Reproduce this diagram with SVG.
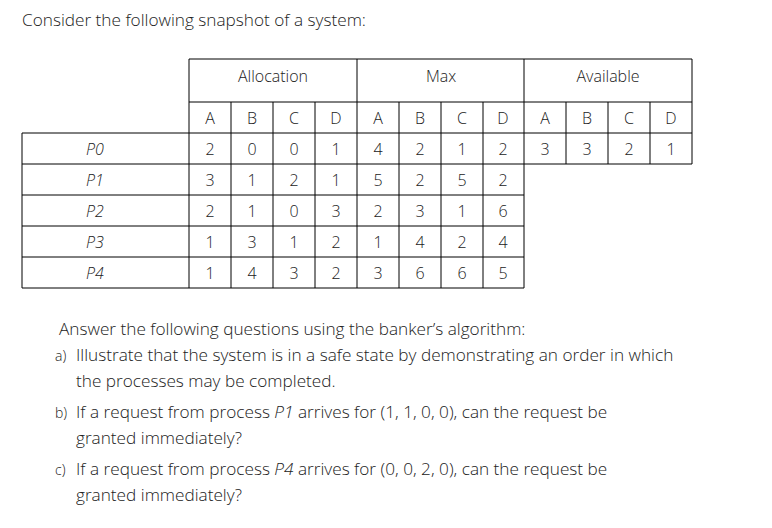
<svg xmlns="http://www.w3.org/2000/svg" width="772" height="528" viewBox="0 0 772 528">
<style>
text{font-family:"Open Sans","Liberation Sans",sans-serif;font-size:16px;fill:#222;font-weight:300}
.c{text-anchor:middle}
.p{font-style:italic}
.q{font-size:17.2px}
.g line{stroke:#000;stroke-width:1}
</style>
<rect width="772" height="528" fill="#fff"/>
<text class="q" x="22" y="26">Consider the following snapshot of a system:</text>
<g class="g" id="table">
<line x1="189" y1="59" x2="692" y2="59"/>
<line x1="189" y1="102" x2="692" y2="102"/>
<line x1="22" y1="133" x2="692" y2="133"/>
<line x1="22" y1="164" x2="692" y2="164"/>
<line x1="22" y1="195" x2="524" y2="195"/>
<line x1="22" y1="226" x2="524" y2="226"/>
<line x1="22" y1="257" x2="524" y2="257"/>
<line x1="22" y1="288" x2="524" y2="288"/>
<line x1="22" y1="133" x2="22" y2="288"/>
<line x1="189" y1="59" x2="189" y2="288"/>
<line x1="231" y1="102" x2="231" y2="288"/>
<line x1="273" y1="102" x2="273" y2="288"/>
<line x1="315" y1="102" x2="315" y2="288"/>
<line x1="357" y1="59" x2="357" y2="288"/>
<line x1="399" y1="102" x2="399" y2="288"/>
<line x1="441" y1="102" x2="441" y2="288"/>
<line x1="483" y1="102" x2="483" y2="288"/>
<line x1="524" y1="59" x2="524" y2="288"/>
<line x1="566" y1="102" x2="566" y2="164"/>
<line x1="608" y1="102" x2="608" y2="164"/>
<line x1="650" y1="102" x2="650" y2="164"/>
<line x1="692" y1="59" x2="692" y2="164"/>
</g>
<g id="headers" class="c">
<text x="273" y="82">Allocation</text>
<text x="441" y="82">Max</text>
<text x="608" y="82">Available</text>
<text x="210" y="124">A</text><text x="252" y="124">B</text><text x="294" y="124">C</text><text x="336" y="124">D</text>
<text x="378" y="124">A</text><text x="420" y="124">B</text><text x="462" y="124">C</text><text x="503" y="124">D</text>
<text x="545" y="124">A</text><text x="587" y="124">B</text><text x="629" y="124">C</text><text x="671" y="124">D</text>
</g>
<g id="rows" class="c">
<text class="p" x="95" y="155">P0</text>
<text x="210" y="155">2</text><text x="252" y="155">0</text><text x="294" y="155">0</text><text x="336" y="155">1</text>
<text x="378" y="155">4</text><text x="420" y="155">2</text><text x="462" y="155">1</text><text x="503" y="155">2</text>
<text x="545" y="155">3</text><text x="587" y="155">3</text><text x="629" y="155">2</text><text x="671" y="155">1</text>
<text class="p" x="95" y="186">P1</text>
<text x="210" y="186">3</text><text x="252" y="186">1</text><text x="294" y="186">2</text><text x="336" y="186">1</text>
<text x="378" y="186">5</text><text x="420" y="186">2</text><text x="462" y="186">5</text><text x="503" y="186">2</text>
<text class="p" x="95" y="217">P2</text>
<text x="210" y="217">2</text><text x="252" y="217">1</text><text x="294" y="217">0</text><text x="336" y="217">3</text>
<text x="378" y="217">2</text><text x="420" y="217">3</text><text x="462" y="217">1</text><text x="503" y="217">6</text>
<text class="p" x="95" y="248">P3</text>
<text x="210" y="248">1</text><text x="252" y="248">3</text><text x="294" y="248">1</text><text x="336" y="248">2</text>
<text x="378" y="248">1</text><text x="420" y="248">4</text><text x="462" y="248">2</text><text x="503" y="248">4</text>
<text class="p" x="95" y="279">P4</text>
<text x="210" y="279">1</text><text x="252" y="279">4</text><text x="294" y="279">3</text><text x="336" y="279">2</text>
<text x="378" y="279">3</text><text x="420" y="279">6</text><text x="462" y="279">6</text><text x="503" y="279">5</text>
</g>
<g id="questions" class="q">
<text class="q" x="59" y="335">Answer the following questions using the banker’s algorithm:</text>
<text x="55" y="361" style="font-size:14px">a)</text>
<text class="q" x="76" y="361">Illustrate that the system is in a safe state by demonstrating an order in which</text>
<text class="q" x="76" y="387">the processes may be completed.</text>
<text x="55" y="418" style="font-size:14px">b)</text>
<text class="q" x="76" y="418">If a request from process <tspan class="p">P1</tspan> arrives for (1, 1, 0, 0), can the request be</text>
<text class="q" x="76" y="444">granted immediately?</text>
<text x="55" y="475" style="font-size:14px">c)</text>
<text class="q" x="76" y="475">If a request from process <tspan class="p">P4</tspan> arrives for (0, 0, 2, 0), can the request be</text>
<text class="q" x="76" y="501">granted immediately?</text>
</g>
</svg>
